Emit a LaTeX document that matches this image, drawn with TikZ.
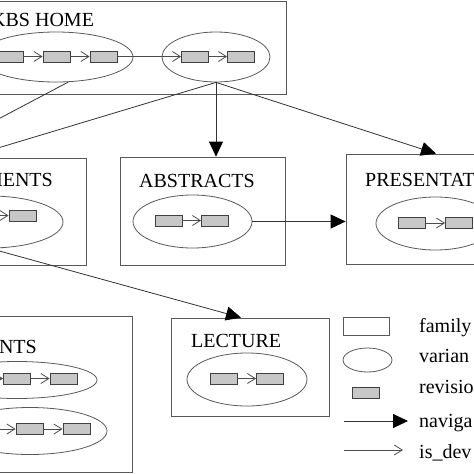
\documentclass[tikz,border=0pt]{standalone}
\usepackage{fontspec}
\setmainfont{Liberation Serif}
\usetikzlibrary{arrows.meta}
\usetikzlibrary{shapes.geometric}

\begin{document}
\begin{tikzpicture}
    [x=1pt,y=-1pt,
    family/.style={rectangle,draw=black!65,line width=0.8pt,inner sep=0pt},
    variant/.style={ellipse,draw=black!65,line width=0.8pt,inner sep=0pt},
    revision/.style={rectangle,draw=black!75,line width=0.8pt,fill=black!22,inner sep=0pt,
      minimum width=27pt,minimum height=11pt},
    label/.style={inner sep=0pt,font=\fontsize{20}{24}\selectfont},
    navigates/.style={draw=black!80,line width=0.8pt,-{Triangle[length=15pt,width=14pt,color=black]}},
    derived/.style={draw=black!70,line width=0.8pt,-{Straight Barb[length=8pt,width=10pt]}}]

    \useasboundingbox (0,0) rectangle (474,474);
    \clip (0,0) rectangle (474,474);

    % families
    \node[family,minimum width=306pt,minimum height=93pt]  (kbs home)  at (133,47.5)  {};
    \node[family,minimum width=240pt,minimum height=107pt] (ments)     at (-34,211.5) {};
    \node[family,minimum width=165pt,minimum height=108pt] (abstracts) at (202.5,211) {};
    \node[family,minimum width=180pt,minimum height=110pt] (presentat) at (436,209)   {};
    \node[family,minimum width=344pt,minimum height=156pt] (nts)       at (-40,394)   {};
    \node[family,minimum width=158pt,minimum height=98pt]  (lecture)   at (250,367)   {};

    \node[label,anchor=base west] (kbs home label)  at (-9,26)   {KBS HOME};
    \node[label,anchor=base east] (ments label)     at (53,186)  {MENTS};
    \node[label,anchor=base west] (abstracts label) at (139,187) {ABSTRACTS};
    \node[label,anchor=base west] (presentat label) at (365,186) {PRESENTAT};
    \node[label,anchor=base east] (nts label)       at (37,353)  {NTS};
    \node[label,anchor=base west] (lecture label)   at (191,347) {LECTURE};

    % variants
    \node[variant,minimum width=154pt,minimum height=50pt] (kbs v1)       at (56,57)       {};
    \node[variant,minimum width=108pt,minimum height=50pt] (kbs v2)       at (216,57)      {};
    \node[variant,minimum width=146pt,minimum height=52pt] (ments v1)     at (-10,222)     {};
    \node[variant,minimum width=119pt,minimum height=53pt] (abstracts v1) at (192.5,221.5) {};
    \node[variant,minimum width=119pt,minimum height=53pt] (presentat v1) at (435.5,223.5) {};
    \node[variant,minimum width=160pt,minimum height=37pt] (nts v1)       at (17,380)      {};
    \node[variant,minimum width=154pt,minimum height=47pt] (nts v2)       at (30,431)      {};
    \node[variant,minimum width=120pt,minimum height=53pt] (lecture v1)   at (247,379.5)   {};

    % revisions
    \node[revision] (kbs r1)       at (9.5,56.5)   {};
    \node[revision] (kbs r2)       at (56.5,56.5)  {};
    \node[revision] (kbs r3)       at (103.5,56.5) {};
    \node[revision] (kbs r4)       at (195,56.5)   {};
    \node[revision] (kbs r5)       at (241,56.5)   {};
    \node[revision] (ments r1)     at (22.5,215.5) {};
    \node[revision] (abstracts r1) at (168.5,220.5) {};
    \node[revision] (abstracts r2) at (215,220.5)  {};
    \node[revision] (presentat r1) at (412,223)    {};
    \node[revision] (presentat r2) at (459,223)    {};
    \node[revision] (nts r1)       at (17,378.5)   {};
    \node[revision] (nts r2)       at (63.5,378.5) {};
    \node[revision] (nts r3)       at (29.5,429)   {};
    \node[revision] (nts r4)       at (76.5,429)   {};
    \node[revision] (lecture r1)   at (223.5,378.5) {};
    \node[revision] (lecture r2)   at (270,378.5)  {};

    \coordinate (ments in)  at (-15,215.5);
    \coordinate (nts in 1)  at (-20,378.5);
    \coordinate (nts in 2)  at (-10,429);
    \coordinate (off left)  at (-100,171);

    % is derived from
    \draw[derived] (kbs r1) -- (kbs r2);
    \draw[derived] (kbs r2) -- (kbs r3);
    \draw[derived] (kbs r3) -- (kbs r4);
    \draw[derived] (kbs r4) -- (kbs r5);
    \draw[derived] (ments in) -- (ments r1);
    \draw[derived] (abstracts r1) -- (abstracts r2);
    \draw[derived] (presentat r1) -- (presentat r2);
    \draw[derived] (nts in 1) -- (nts r1);
    \draw[derived] (nts r1) -- (nts r2);
    \draw[derived] (nts in 2) -- (nts r3);
    \draw[derived] (nts r3) -- (nts r4);
    \draw[derived] (lecture r1) -- (lecture r2);

    % navigation
    \draw[navigates] (kbs v2.south) -- (kbs v2.south |- abstracts.north);
    \draw[navigates] (kbs v2.south) -- (presentat.north);
    \draw[navigates] (kbs v2.south) -- (ments.north);
    \draw[navigates] (kbs v1.-64) -- (off left);
    \draw[navigates] (ments v1.south) -- ([xshift=-9pt]lecture.north);
    \draw[navigates] (abstracts v1.east) -- (abstracts v1.east -| presentat.west);

    % key
    \node[family,minimum width=46pt,minimum height=18pt]  (key family)   at (366,326)   {};
    \node[variant,minimum width=49pt,minimum height=24pt] (key variant)  at (367.5,360) {};
    \node[revision]                                       (key revision) at (365.5,392.5) {};
    \coordinate (key nav a)     at (344,421);
    \coordinate (key nav b)     at (408,421);
    \coordinate (key derived a) at (344,450);
    \coordinate (key derived b) at (403,450);
    \draw[navigates] (key nav a) -- (key nav b);
    \draw[derived] (key derived a) -- (key derived b);

    \node[label,anchor=base west] (key family text)   at (419,332) {family};
    \node[label,anchor=base west] (key variant text)  at (419,362) {varian};
    \node[label,anchor=base west] (key revision text) at (419,393) {revisio};
    \node[label,anchor=base west] (key nav text)      at (419,427) {naviga};
    \node[label,anchor=base west] (key derived text)  at (419,458) {is\_dev};

  \end{tikzpicture}
\end{document}
